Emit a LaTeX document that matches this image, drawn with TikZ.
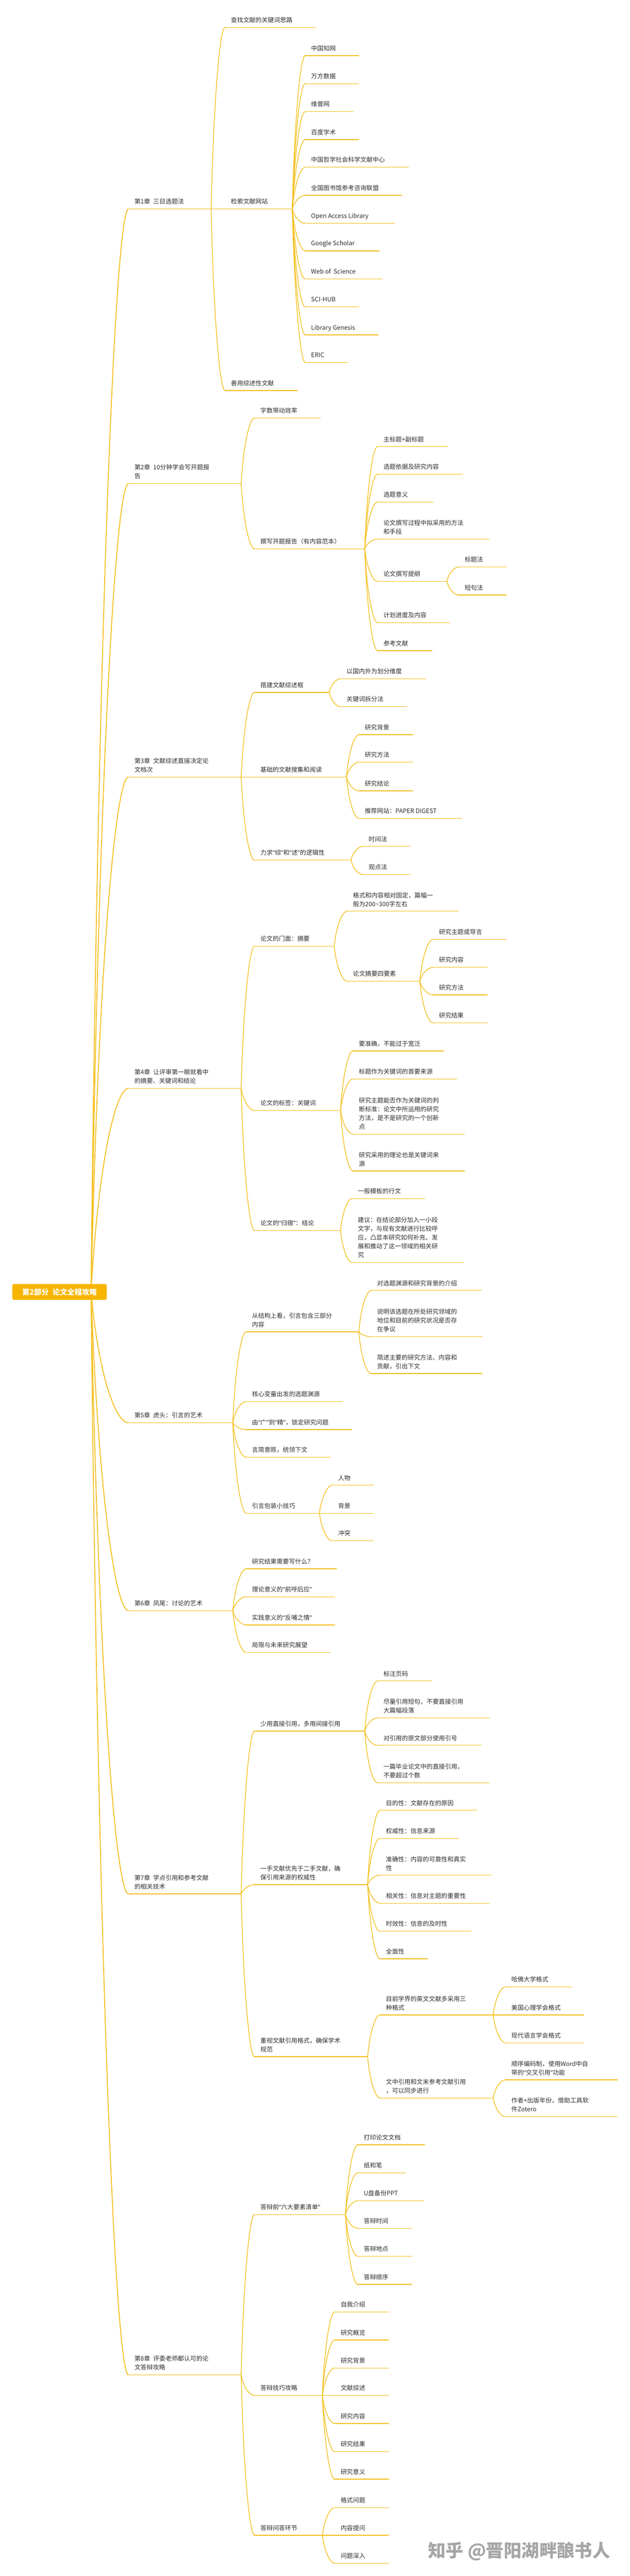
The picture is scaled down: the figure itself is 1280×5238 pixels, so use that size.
\documentclass[tikz,border=0pt]{standalone}
\usepackage{fontspec}
\newfontfamily\cjk{Noto Sans CJK SC}
\newfontfamily\latin{Noto Sans}
\usetikzlibrary{calc}

\definecolor{lineyellow}{RGB}{244,190,24}
\definecolor{rootorange}{RGB}{247,181,0}
\definecolor{textgray}{RGB}{45,45,45}

\tikzset{
  uline/.style={draw=lineyellow, line width=1.4pt, line cap=round},
  trunk/.style={draw=lineyellow, line width=1.8pt},
  topic/.style={anchor=south west, inner sep=0pt, align=left, text=textgray,
    font=\cjk\fontsize{12.5}{17.8}\selectfont,
    execute at end node={\rule[-3pt]{0pt}{3pt}}},
  rootbox/.style={fill=rootorange, rounded corners=3pt, minimum width=192pt,
    minimum height=32pt, inner sep=0pt, text=white,
    font=\cjk\bfseries\fontsize{15}{18}\selectfont},
  wmark/.style={text=black!35, font=\cjk\bfseries\fontsize{36}{40}\selectfont}
}

\newcommand{\qt}[1]{{\latin “}#1{\latin ”}}
\newcommand{\topicnode}[5]{%
  \coordinate (#1-l) at (#2,#4);
  \coordinate (#1-r) at (#3,#4);
  \draw[uline] (#1-l) -- (#1-r);
  \node[topic] (#1) at (#2+12,#4-7) {#5};
}
\newcommand{\branch}[3][uline]{%
  \draw[#1] let \p1=(#2-r), \p2=(#3-l) in
    (\p1) .. controls ({\x1+0.2*(\x2-\x1)},{\y1+0.65*(\y2-\y1)}) and ({\x1+0.67*(\x2-\x1)},\y2) .. (\p2);
}

\begin{document}
\begin{tikzpicture}[x=1pt,y=-1pt]

\fill[white] (0,0) rectangle (1280,5238);
\useasboundingbox (0,0) rectangle (1280,5238);

\coordinate (root-r) at (185,2627);

\topicnode{ch1}{261}{429}{425}{第1章\enspace 三日选题法}
\topicnode{ch2}{261}{490}{983}{第2章\enspace 10分钟学会写开题报\\告}
\topicnode{ch3}{261}{490}{1580}{第3章\enspace 文献综述直接决定论\\文档次}
\topicnode{ch4}{261}{490}{2213}{第4章\enspace 让评审第一眼就看中\\的摘要、关键词和结论}
\topicnode{ch5}{261}{473}{2893}{第5章\enspace 虎头：引言的艺术}
\topicnode{ch6}{261}{473}{3275}{第6章\enspace 凤尾：讨论的艺术}
\topicnode{ch7}{261}{490}{3851}{第7章\enspace 学点引用和参考文献\\的相关技术}
\topicnode{ch8}{261}{490}{4829}{第8章\enspace 评委老师都认可的论\\文答辩攻略}

\branch[trunk]{root}{ch1}
\branch[trunk]{root}{ch2}
\branch[trunk]{root}{ch3}
\branch[trunk]{root}{ch4}
\branch[trunk]{root}{ch5}
\branch[trunk]{root}{ch6}
\branch[trunk]{root}{ch7}
\branch[trunk]{root}{ch8}

\topicnode{k1}{457}{641}{56}{查找文献的关键词思路}
\topicnode{k2}{457}{594}{425}{检索文献网站}
\topicnode{k3}{457}{604}{794}{善用综述性文献}
\branch{ch1}{k1}
\branch{ch1}{k2}
\branch{ch1}{k3}

\topicnode{w1}{620}{729}{113}{中国知网}
\topicnode{w2}{620}{729}{170}{万方数据}
\topicnode{w3}{620}{717}{227}{维普网}
\topicnode{w4}{620}{729}{284}{百度学术}
\topicnode{w5}{620}{830}{340}{中国哲学社会科学文献中心}
\topicnode{w6}{620}{816}{397}{全国图书馆参考咨询联盟}
\topicnode{w7}{620}{802}{454}{Open Access Library}
\topicnode{w8}{620}{771}{510}{Google Scholar}
\topicnode{w9}{620}{777}{567}{Web of~~Science}
\topicnode{w10}{620}{729}{624}{SCI-HUB}
\topicnode{w11}{620}{769}{681}{Library Genesis}
\topicnode{w12}{620}{707}{737}{ERIC}
\foreach \i in {1,...,12}
  \branch{k2}{w\i};

\topicnode{b1}{517}{651}{850}{字数带动效率}
\topicnode{b2}{517}{741}{1116}{撰写开题报告（有内容范本）}
\branch{ch2}{b1}
\branch{ch2}{b2}

\topicnode{p1}{767}{910}{908}{主标题+副标题}
\topicnode{p2}{767}{940}{964}{选题依据及研究内容}
\topicnode{p3}{767}{880}{1021}{选题意义}
\topicnode{p4}{767}{994}{1096}{论文撰写过程中拟采用的方法\\和手段}
\topicnode{p5}{767}{908}{1182}{论文撰写提纲}
\topicnode{p6}{767}{914}{1266}{计划进度及内容}
\topicnode{p7}{767}{878}{1323}{参考文献}
\foreach \i in {1,...,7}
  \branch{b2}{p\i};

\topicnode{q1}{932}{1029}{1153}{标题法}
\topicnode{q2}{932}{1029}{1210}{短句法}
\branch{p5}{q1}
\branch{p5}{q2}

\topicnode{c1}{517}{669}{1408}{搭建文献综述框}
\topicnode{c2}{517}{704}{1580}{基础的文献搜集和阅读}
\topicnode{c3}{517}{713}{1749}{力求\qt{综}和\qt{述}的逻辑性}
\branch{ch3}{c1}
\branch{ch3}{c2}
\branch{ch3}{c3}

\topicnode{c11}{692}{865}{1380}{以国内外为划分维度}
\topicnode{c12}{692}{826}{1437}{关键词拆分法}
\branch{c1}{c11}
\branch{c1}{c12}

\topicnode{c21}{729}{839}{1494}{研究背景}
\topicnode{c22}{729}{839}{1550}{研究方法}
\topicnode{c23}{729}{839}{1608}{研究结论}
\topicnode{c24}{729}{939}{1664}{推荐网站：PAPER DIGEST}
\foreach \i in {1,...,4}
  \branch{c2}{c2\i};

\topicnode{c31}{737}{834}{1721}{时间法}
\topicnode{c32}{737}{834}{1778}{观点法}
\branch{c3}{c31}
\branch{c3}{c32}

\topicnode{d1}{517}{679}{1924}{论文的门面：摘要}
\topicnode{d2}{517}{692}{2258}{论文的标签：关键词}
\topicnode{d3}{517}{692}{2502}{论文的\qt{归宿}：结论}
\branch{ch4}{d1}
\branch{ch4}{d2}
\branch{ch4}{d3}

\topicnode{d11}{705}{932}{1853}{格式和内容相对固定，篇幅一\\般为200\textasciitilde300字左右}
\topicnode{d12}{705}{853}{1995}{论文摘要四要素}
\branch{d1}{d11}
\branch{d1}{d12}

\topicnode{d121}{880}{1029}{1910}{研究主题或导言}
\topicnode{d122}{880}{990}{1967}{研究内容}
\topicnode{d123}{880}{990}{2023}{研究方法}
\topicnode{d124}{880}{990}{2080}{研究结果}
\foreach \i in {1,...,4}
  \branch{d12}{d12\i};

\topicnode{d21}{717}{902}{2137}{要准确，不能过于宽泛}
\topicnode{d22}{717}{928}{2194}{标题作为关键词的首要来源}
\topicnode{d23}{717}{944}{2306}{研究主题能否作为关键词的判\\断标准：论文中所运用的研究\\方法，是不是研究的一个创新\\点}
\topicnode{d24}{717}{944}{2381}{研究采用的理论也是关键词来\\源}
\foreach \i in {1,...,4}
  \branch{d2}{d2\i};

\topicnode{d31}{715}{863}{2437}{一般模板的行文}
\topicnode{d32}{715}{943}{2567}{建议：在结论部分加入一小段\\文字，与现有文献进行比较呼\\应，凸显本研究如何补充、发\\展和推动了这一领域的相关研\\究}
\branch{d3}{d31}
\branch{d3}{d32}

\topicnode{e1}{500}{729}{2708}{从结构上看，引言包含三部分\\内容}
\topicnode{e2}{500}{696}{2850}{核心变量出发的选题渊源}
\topicnode{e3}{500}{715}{2907}{由\qt{广}到\qt{精}，锁定研究问题}
\topicnode{e4}{500}{671}{2963}{言简意赅，统领下文}
\topicnode{e5}{500}{649}{3077}{引言包装小技巧}
\foreach \i in {1,...,5}
  \branch{ch5}{e\i};

\topicnode{e11}{754}{978}{2624}{对选题渊源和研究背景的介绍}
\topicnode{e12}{754}{980}{2718}{说明该选题在所处研究领域的\\地位和目前的研究状况是否存\\在争议}
\topicnode{e13}{754}{980}{2793}{简述主要的研究方法、内容和\\贡献，引出下文}
\foreach \i in {1,2,3}
  \branch{e1}{e1\i};

\topicnode{e51}{675}{759}{3020}{人物}
\topicnode{e52}{675}{759}{3077}{背景}
\topicnode{e53}{675}{759}{3133}{冲突}
\foreach \i in {1,2,3}
  \branch{e5}{e5\i};

\topicnode{f1}{500}{684}{3190}{研究结果需要写什么？}
\topicnode{f2}{500}{680}{3247}{理论意义的\qt{前呼后应}}
\topicnode{f3}{500}{680}{3304}{实践意义的\qt{反哺之情}}
\topicnode{f4}{500}{671}{3360}{局限与未来研究展望}
\foreach \i in {1,...,4}
  \branch{ch6}{f\i};

\topicnode{g1}{517}{741}{3520}{少用直接引用，多用间接引用}
\topicnode{g2}{517}{747}{3832}{一手文献优先于二手文献，确\\保引用来源的权威性}
\topicnode{g3}{517}{747}{4182}{重视文献引用格式，确保学术\\规范}
\branch{ch7}{g1}
\branch{ch7}{g2}
\branch{ch7}{g3}

\topicnode{g11}{767}{878}{3418}{标注页码}
\topicnode{g12}{767}{994}{3493}{尽量引用短句，不要直接引用\\大篇幅段落}
\topicnode{g13}{767}{978}{3549}{对引用的原文部分使用引号}
\topicnode{g14}{767}{994}{3625}{一篇毕业论文中的直接引用，\\不要超过个数}
\foreach \i in {1,...,4}
  \branch{g1}{g1\i};

\topicnode{g21}{772}{969}{3681}{目的性：文献存在的原因}
\topicnode{g22}{772}{932}{3738}{权威性：信息来源}
\topicnode{g23}{772}{998}{3813}{准确性：内容的可靠性和真实\\性}
\topicnode{g24}{772}{994}{3870}{相关性：信息对主题的重要性}
\topicnode{g25}{772}{957}{3927}{时效性：信息的及时性}
\topicnode{g26}{772}{869}{3983}{全面性}
\foreach \i in {1,...,6}
  \branch{g2}{g2\i};

\topicnode{g31}{772}{1002}{4097}{目前学界的英文文献多采用三\\种格式}
\topicnode{g32}{772}{1002}{4266}{文中引用和文末参考文献引用\\，可以同步进行}
\branch{g3}{g31}
\branch{g3}{g32}

\topicnode{g311}{1027}{1162}{4040}{哈佛大学格式}
\topicnode{g312}{1027}{1186}{4097}{美国心理学会格式}
\topicnode{g313}{1027}{1186}{4154}{现代语言学会格式}
\foreach \i in {1,2,3}
  \branch{g31}{g31\i};

\topicnode{g321}{1027}{1255}{4229}{顺序编码制，使用Word中自\\带的\qt{交叉引用}功能}
\topicnode{g322}{1027}{1255}{4304}{作者+出版年份，借助工具软\\件Zotero}
\branch{g32}{g321}
\branch{g32}{g322}

\topicnode{h1}{517}{702}{4503}{答辩前\qt{六大要素清单}}
\topicnode{h2}{517}{655}{4871}{答辩技巧攻略}
\topicnode{h3}{517}{655}{5155}{答辩问答环节}
\branch{ch8}{h1}
\branch{ch8}{h2}
\branch{ch8}{h3}

\topicnode{h11}{727}{863}{4361}{打印论文文档}
\topicnode{h12}{727}{824}{4418}{纸和笔}
\topicnode{h13}{727}{861}{4475}{U盘备份PPT}
\topicnode{h14}{727}{837}{4531}{答辩时间}
\topicnode{h15}{727}{837}{4588}{答辩地点}
\topicnode{h16}{727}{837}{4645}{答辩顺序}
\foreach \i in {1,...,6}
  \branch{h1}{h1\i};

\topicnode{h21}{680}{790}{4701}{自我介绍}
\topicnode{h22}{680}{790}{4758}{研究概览}
\topicnode{h23}{680}{790}{4815}{研究背景}
\topicnode{h24}{680}{790}{4871}{文献综述}
\topicnode{h25}{680}{790}{4928}{研究内容}
\topicnode{h26}{680}{790}{4985}{研究结果}
\topicnode{h27}{680}{790}{5041}{研究意义}
\foreach \i in {1,...,7}
  \branch{h2}{h2\i};

\topicnode{h31}{680}{790}{5099}{格式问题}
\topicnode{h32}{680}{790}{5155}{内容提问}
\topicnode{h33}{680}{790}{5212}{问题深入}
\foreach \i in {1,2,3}
  \branch{h3}{h3\i};

\node[rootbox] (root) at (121,2627) {第2部分\enspace 论文全程攻略};

\node[wmark] (wm) at (1055,5188) {知乎 @晋阳湖畔酿书人};

\end{tikzpicture}
\end{document}
